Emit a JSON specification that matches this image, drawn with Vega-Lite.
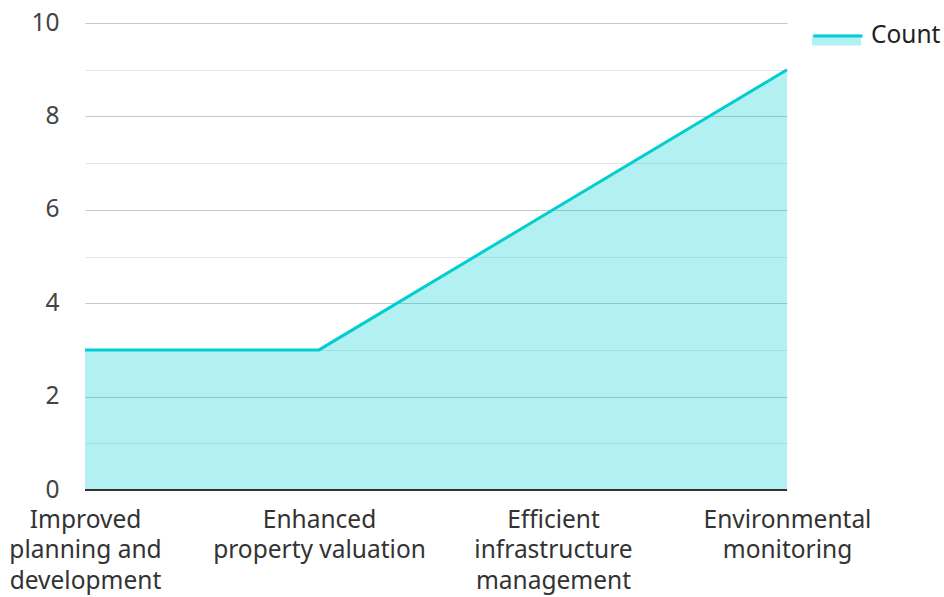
{
  "$schema": "https://vega.github.io/schema/vega-lite/v6.json",
  "width": 702,
  "height": 467,
  "autosize": {"type": "none"},
  "padding": {"left": 85, "top": 23, "right": 157, "bottom": 107},
  "background": "white",
  "config": {
    "font": "Noto Sans",
    "view": {"stroke": null}
  },
  "data": {
    "values": [
      {"category": "Improved planning and development", "series": "Count", "count": 3},
      {"category": "Enhanced property valuation", "series": "Count", "count": 3},
      {"category": "Efficient infrastructure management", "series": "Count", "count": 6},
      {"category": "Environmental monitoring", "series": "Count", "count": 9}
    ]
  },
  "encoding": {
    "x": {
      "field": "category",
      "type": "ordinal",
      "sort": null,
      "scale": {"type": "point", "padding": 0},
      "axis": {
        "title": null,
        "labelAngle": 0,
        "labelFontSize": 24.5,
        "labelColor": "#333333",
        "labelLineHeight": 30.5,
        "labelPadding": 18,
        "labelBaseline": "top",
        "labelAlign": "center",
        "labelOverlap": false,
        "labelLimit": 0,
        "ticks": false,
        "grid": false,
        "domain": false,
        "labelExpr": "datum.value == 'Improved planning and development' ? ['Improved', 'planning and', 'development'] : datum.value == 'Enhanced property valuation' ? ['Enhanced', 'property valuation'] : datum.value == 'Efficient infrastructure management' ? ['Efficient', 'infrastructure', 'management'] : ['Environmental', 'monitoring']"
      }
    },
    "y": {
      "field": "count",
      "type": "quantitative",
      "scale": {"domain": [0, 10]},
      "axis": {
        "title": null,
        "values": [0, 1, 2, 3, 4, 5, 6, 7, 8, 9, 10],
        "labelExpr": "datum.value % 2 === 0 ? datum.label : ''",
        "labelFontSize": 24.5,
        "labelColor": "#444444",
        "labelPadding": 26,
        "ticks": false,
        "domain": false,
        "gridColor": {"condition": {"test": "datum.value % 2 === 0", "value": "#c8c8c8"}, "value": "#e6e6e6"},
        "gridWidth": 1.2
      }
    }
  },
  "layer": [
    {
      "mark": {"type": "area", "opacity": 0.3},
      "encoding": {
        "fill": {
          "field": "series",
          "type": "nominal",
          "scale": {"range": ["#00CED1"]},
          "legend": {
            "title": null,
            "orient": "none",
            "legendX": 727,
            "legendY": -13,
            "symbolType": "M-1,0L1,0L1,0.45L-1,0.45Z",
            "symbolSize": 2401,
            "symbolOpacity": 0.3,
            "symbolStrokeWidth": 0,
            "labelFontSize": 24.5,
            "labelExpr": "''",
            "labelOffset": 7
          }
        }
      }
    },
    {
      "mark": {"type": "rule", "color": "#333333", "strokeWidth": 2},
      "encoding": {"x": {"value": 0}, "x2": {"value": 702}, "y": {"datum": 0}}
    },
    {
      "mark": {"type": "line", "strokeWidth": 3},
      "encoding": {
        "stroke": {
          "field": "series",
          "type": "nominal",
          "scale": {"range": ["#00CED1"]},
          "legend": {
            "title": null,
            "orient": "none",
            "legendX": 727,
            "legendY": -13,
            "symbolType": "stroke",
            "symbolSize": 2401,
            "symbolStrokeWidth": 3,
            "labelFontSize": 24.5,
            "labelColor": "#222222",
            "labelOffset": 7
          }
        }
      }
    }
  ]
}
